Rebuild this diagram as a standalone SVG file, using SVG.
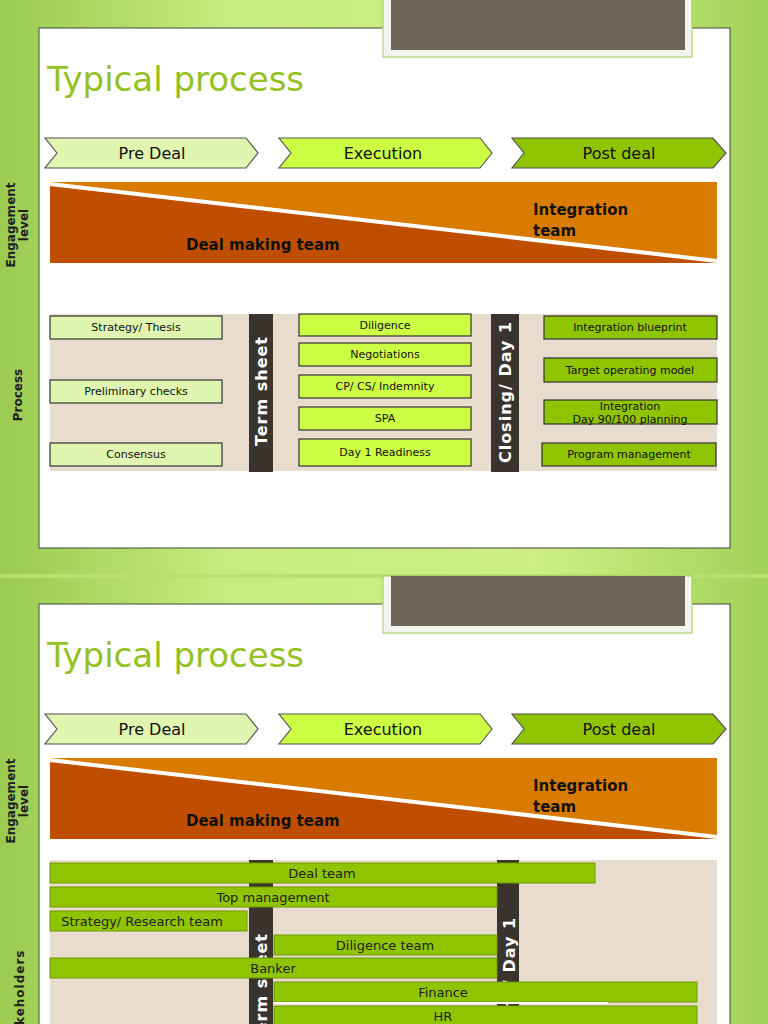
<svg xmlns="http://www.w3.org/2000/svg" width="768" height="1024" viewBox="0 0 768 1024">
<defs>
<linearGradient id="bg" x1="0" y1="0" x2="1" y2="0">
<stop offset="0" stop-color="#9acb50"/><stop offset="0.3" stop-color="#c8ec80"/><stop offset="0.7" stop-color="#cdef86"/><stop offset="1" stop-color="#a2d25a"/>
</linearGradient>
<style>
text{font-family:"DejaVu Sans",sans-serif;}
.title{font-size:34px;fill:#94c11f;}
.chev{stroke:#555;stroke-width:1.2;}
.ct{font-size:16px;fill:#111;text-anchor:middle;}
.band{font-size:15px;font-weight:bold;fill:#111;}
.side{font-size:12px;font-weight:bold;fill:#222;text-anchor:middle;}
.bx{stroke:#333;stroke-width:1.2;}
.bt{font-size:11px;fill:#111;text-anchor:middle;}
.bar{fill:#3a332e;}
.vt{font-size:16px;font-weight:bold;fill:#fff;text-anchor:middle;letter-spacing:1px;}
.sh{fill:#8fc400;stroke:#6e9a00;stroke-width:1;}
.st{font-size:13px;fill:#222;text-anchor:middle;}
</style>
</defs>
<rect width="768" height="1024" fill="url(#bg)"/>
<rect x="0" y="574" width="768" height="4" fill="#b8e070"/>

<!-- Slide 1 -->
<g id="slide1">
<rect x="39" y="28" width="691" height="520" fill="#fff" stroke="#444" stroke-width="1"/>
<rect x="383" y="-2" width="309" height="59" fill="#f4f4ee" stroke="#9ccc50" stroke-width="1"/>
<rect x="391" y="-2" width="294" height="52" fill="#6e6759"/>
<text class="title" x="47" y="91">Typical process</text>
<g id="chev-predeal"><polygon class="chev" points="45,138 246,138 258,153 246,168 45,168 57,153" fill="#e0f5b0"/><text class="ct" x="152" y="159">Pre Deal</text></g>
<g id="chev-exec"><polygon class="chev" points="279,138 480,138 492,153 480,168 279,168 291,153" fill="#ccff44"/><text class="ct" x="383" y="159">Execution</text></g>
<g id="chev-post"><polygon class="chev" points="512,138 713,138 726,153 713,168 512,168 524,153" fill="#8fc400"/><text class="ct" x="619" y="159">Post deal</text></g>
<g id="band1">
<rect x="50" y="182" width="667" height="81" fill="#d97b00"/>
<polygon points="50,186 717,261 717,263 50,263" fill="#c04e00"/>
<line x1="50" y1="184" x2="717" y2="261" stroke="#fff" stroke-width="4"/>
<text class="band" x="186" y="250">Deal making team</text>
<text class="band" x="533" y="215">Integration</text><text class="band" x="533" y="236">team</text>
</g>
<text class="side" transform="translate(15,225) rotate(-90)">Engagement</text>
<text class="side" transform="translate(28,225) rotate(-90)">level</text>
<text class="side" transform="translate(22,395) rotate(-90)">Process</text>
<rect x="50" y="314" width="667" height="157" fill="#e8dccf"/>
<rect class="bar" x="249" y="314" width="24" height="158"/>
<rect class="bar" x="491" y="314" width="28" height="158"/>
<text class="vt" transform="translate(267,391) rotate(-90)">Term sheet</text>
<text class="vt" transform="translate(511,392) rotate(-90)">Closing/ Day 1</text>
<g id="p-strategy"><rect class="bx" x="50" y="316" width="172" height="23" fill="#e0f5b0"/><text class="bt" x="136" y="331">Strategy/ Thesis</text></g>
<g id="p-prelim"><rect class="bx" x="50" y="380" width="172" height="23" fill="#e0f5b0"/><text class="bt" x="136" y="395">Preliminary checks</text></g>
<g id="p-consensus"><rect class="bx" x="50" y="443" width="172" height="23" fill="#e0f5b0"/><text class="bt" x="136" y="458">Consensus</text></g>
<g id="p-diligence"><rect class="bx" x="299" y="314" width="172" height="22" fill="#ccff44"/><text class="bt" x="385" y="329">Diligence</text></g>
<g id="p-negotiations"><rect class="bx" x="299" y="343" width="172" height="23" fill="#ccff44"/><text class="bt" x="385" y="358">Negotiations</text></g>
<g id="p-cp"><rect class="bx" x="299" y="375" width="172" height="23" fill="#ccff44"/><text class="bt" x="385" y="390">CP/ CS/ Indemnity</text></g>
<g id="p-spa"><rect class="bx" x="299" y="407" width="172" height="23" fill="#ccff44"/><text class="bt" x="385" y="422">SPA</text></g>
<g id="p-day1"><rect class="bx" x="299" y="439" width="172" height="27" fill="#ccff44"/><text class="bt" x="385" y="456">Day 1 Readiness</text></g>
<g id="p-blueprint"><rect class="bx" x="544" y="316" width="173" height="23" fill="#8fc400"/><text class="bt" x="630" y="331">Integration blueprint</text></g>
<g id="p-tom"><rect class="bx" x="544" y="358" width="173" height="24" fill="#8fc400"/><text class="bt" x="630" y="374">Target operating model</text></g>
<g id="p-integ"><rect class="bx" x="544" y="400" width="173" height="24" fill="#8fc400"/><text class="bt" x="630" y="410">Integration</text><text class="bt" x="630" y="423">Day 90/100 planning</text></g>
<g id="p-program"><rect class="bx" x="542" y="443" width="174" height="23" fill="#8fc400"/><text class="bt" x="629" y="458">Program management</text></g>
</g>

<!-- Slide 2 -->
<g id="slide2">
<rect x="39" y="604" width="691" height="440" fill="#fff" stroke="#444" stroke-width="1"/>
<rect x="383" y="576" width="309" height="57" fill="#f4f4ee" stroke="#9ccc50" stroke-width="1"/>
<rect x="391" y="576" width="294" height="50" fill="#6e6759"/>
<text class="title" x="47" y="667">Typical process</text>
<g id="chev2-predeal"><polygon class="chev" points="45,714 246,714 258,729 246,744 45,744 57,729" fill="#e0f5b0"/><text class="ct" x="152" y="735">Pre Deal</text></g>
<g id="chev2-exec"><polygon class="chev" points="279,714 480,714 492,729 480,744 279,744 291,729" fill="#ccff44"/><text class="ct" x="383" y="735">Execution</text></g>
<g id="chev2-post"><polygon class="chev" points="512,714 713,714 726,729 713,744 512,744 524,729" fill="#8fc400"/><text class="ct" x="619" y="735">Post deal</text></g>
<g id="band2">
<rect x="50" y="758" width="667" height="81" fill="#d97b00"/>
<polygon points="50,762 717,837 717,839 50,839" fill="#c04e00"/>
<line x1="50" y1="760" x2="717" y2="837" stroke="#fff" stroke-width="4"/>
<text class="band" x="186" y="826">Deal making team</text>
<text class="band" x="533" y="791">Integration</text><text class="band" x="533" y="812">team</text>
</g>
<text class="side" transform="translate(15,801) rotate(-90)">Engagement</text>
<text class="side" transform="translate(28,801) rotate(-90)">level</text>
<text class="side" style="letter-spacing:1px" transform="translate(24,1000) rotate(-90)">Stakeholders</text>
<rect x="50" y="860" width="667" height="170" fill="#e8dccf"/>
<rect class="bar" x="249" y="860" width="24" height="170"/>
<rect class="bar" x="497" y="860" width="22" height="170"/>
<text class="vt" transform="translate(267,988) rotate(-90)">Term sheet</text>
<text class="vt" transform="translate(515,988) rotate(-90)">Closing/ Day 1</text>
<g id="s-deal"><rect class="sh" x="50" y="863" width="545" height="20"/><text class="st" x="322" y="878">Deal team</text></g>
<g id="s-top"><rect class="sh" x="50" y="887" width="447" height="20"/><text class="st" x="273" y="902">Top management</text></g>
<g id="s-strategy"><rect class="sh" x="50" y="911" width="197" height="20"/><text class="st" x="142" y="926">Strategy/ Research team</text></g>
<g id="s-diligence"><rect class="sh" x="274" y="935" width="223" height="20"/><text class="st" x="385" y="950">Diligence team</text></g>
<g id="s-banker"><rect class="sh" x="50" y="958" width="447" height="20"/><text class="st" x="273" y="973">Banker</text></g>
<g id="s-finance"><rect class="sh" x="274" y="982" width="423" height="20"/><text class="st" x="443" y="997">Finance</text></g>
<rect x="274" y="1002" width="334" height="2" fill="#fff"/>
<g id="s-hr"><rect class="sh" x="274" y="1006" width="423" height="24"/><text class="st" x="443" y="1021">HR</text></g>
</g>
</svg>
